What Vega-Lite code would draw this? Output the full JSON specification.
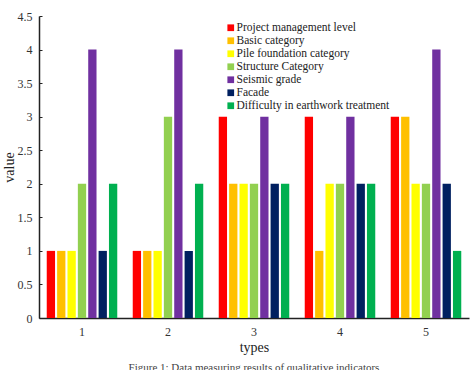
{
  "$schema": "https://vega.github.io/schema/vega-lite/v6.json",
  "autosize": "none",
  "width": 430,
  "height": 302,
  "padding": {"left": 39, "top": 16, "right": 5, "bottom": 52},
  "background": "white",
  "config": {
    "font": "Liberation Serif",
    "view": {"stroke": null},
    "axis": {"labelFont": "Liberation Serif", "titleFont": "Liberation Serif"},
    "legend": {"labelFont": "Liberation Serif", "titleFont": "Liberation Serif"},
    "title": {"font": "Liberation Serif"}
  },
  "title": {
    "text": "Figure 1: Data measuring results of qualitative indicators",
    "orient": "bottom",
    "font": "Liberation Serif",
    "fontSize": 11,
    "fontWeight": "normal",
    "color": "#444",
    "offset": 8,
    "anchor": "middle"
  },
  "data": {
    "values": [
      {"type": "1", "series": "Project management level", "value": 1},
      {"type": "1", "series": "Basic category", "value": 1},
      {"type": "1", "series": "Pile foundation category", "value": 1},
      {"type": "1", "series": "Structure Category", "value": 2},
      {"type": "1", "series": "Seismic grade", "value": 4},
      {"type": "1", "series": "Facade", "value": 1},
      {"type": "1", "series": "Difficulty in earthwork treatment", "value": 2},
      {"type": "2", "series": "Project management level", "value": 1},
      {"type": "2", "series": "Basic category", "value": 1},
      {"type": "2", "series": "Pile foundation category", "value": 1},
      {"type": "2", "series": "Structure Category", "value": 3},
      {"type": "2", "series": "Seismic grade", "value": 4},
      {"type": "2", "series": "Facade", "value": 1},
      {"type": "2", "series": "Difficulty in earthwork treatment", "value": 2},
      {"type": "3", "series": "Project management level", "value": 3},
      {"type": "3", "series": "Basic category", "value": 2},
      {"type": "3", "series": "Pile foundation category", "value": 2},
      {"type": "3", "series": "Structure Category", "value": 2},
      {"type": "3", "series": "Seismic grade", "value": 3},
      {"type": "3", "series": "Facade", "value": 2},
      {"type": "3", "series": "Difficulty in earthwork treatment", "value": 2},
      {"type": "4", "series": "Project management level", "value": 3},
      {"type": "4", "series": "Basic category", "value": 1},
      {"type": "4", "series": "Pile foundation category", "value": 2},
      {"type": "4", "series": "Structure Category", "value": 2},
      {"type": "4", "series": "Seismic grade", "value": 3},
      {"type": "4", "series": "Facade", "value": 2},
      {"type": "4", "series": "Difficulty in earthwork treatment", "value": 2},
      {"type": "5", "series": "Project management level", "value": 3},
      {"type": "5", "series": "Basic category", "value": 3},
      {"type": "5", "series": "Pile foundation category", "value": 2},
      {"type": "5", "series": "Structure Category", "value": 2},
      {"type": "5", "series": "Seismic grade", "value": 4},
      {"type": "5", "series": "Facade", "value": 2},
      {"type": "5", "series": "Difficulty in earthwork treatment", "value": 1}
    ]
  },
  "mark": {"type": "bar"},
  "encoding": {
    "x": {
      "field": "type",
      "type": "nominal",
      "scale": {"paddingInner": 0.18, "paddingOuter": 0.09},
      "axis": {
        "title": "types",
        "titleFontSize": 14,
        "titleFontWeight": "normal",
        "titleColor": "#222",
        "titlePadding": 3,
        "labelAngle": 0,
        "labelFontSize": 12,
        "labelColor": "#333",
        "labelPadding": 8,
        "ticks": false,
        "domainColor": "#222",
        "domainWidth": 1.5
      }
    },
    "xOffset": {
      "field": "series",
      "type": "nominal",
      "sort": ["Project management level", "Basic category", "Pile foundation category", "Structure Category", "Seismic grade", "Facade", "Difficulty in earthwork treatment"],
      "scale": {"paddingInner": 0.2}
    },
    "y": {
      "field": "value",
      "type": "quantitative",
      "scale": {"domain": [0, 4.5], "nice": false},
      "axis": {
        "title": "value",
        "titleFontSize": 14,
        "titleFontWeight": "normal",
        "titleColor": "#222",
        "titlePadding": 1,
        "values": [0, 0.5, 1, 1.5, 2, 2.5, 3, 3.5, 4, 4.5],
        "format": ".1~f",
        "grid": false,
        "labelFontSize": 12,
        "labelColor": "#333",
        "labelPadding": 10,
        "tickSize": -3,
        "tickColor": "#222",
        "domainColor": "#222",
        "domainWidth": 1.5
      }
    },
    "color": {
      "field": "series",
      "type": "nominal",
      "sort": ["Project management level", "Basic category", "Pile foundation category", "Structure Category", "Seismic grade", "Facade", "Difficulty in earthwork treatment"],
      "scale": {
        "domain": ["Project management level", "Basic category", "Pile foundation category", "Structure Category", "Seismic grade", "Facade", "Difficulty in earthwork treatment"],
        "range": ["#FF0000", "#FFC000", "#FFFF00", "#92D050", "#7030A0", "#002060", "#00B050"]
      },
      "legend": {
        "title": null,
        "orient": "none",
        "legendX": 186,
        "legendY": 6,
        "symbolType": "square",
        "symbolSize": 45,
        "symbolStrokeWidth": 0,
        "labelFont": "Liberation Serif",
        "labelFontSize": 11.5,
        "labelColor": "#222",
        "labelOffset": 0,
        "rowPadding": 0,
        "symbolOffset": 0,
        "labelLimit": 300,
        "padding": 0
      }
    }
  }
}
